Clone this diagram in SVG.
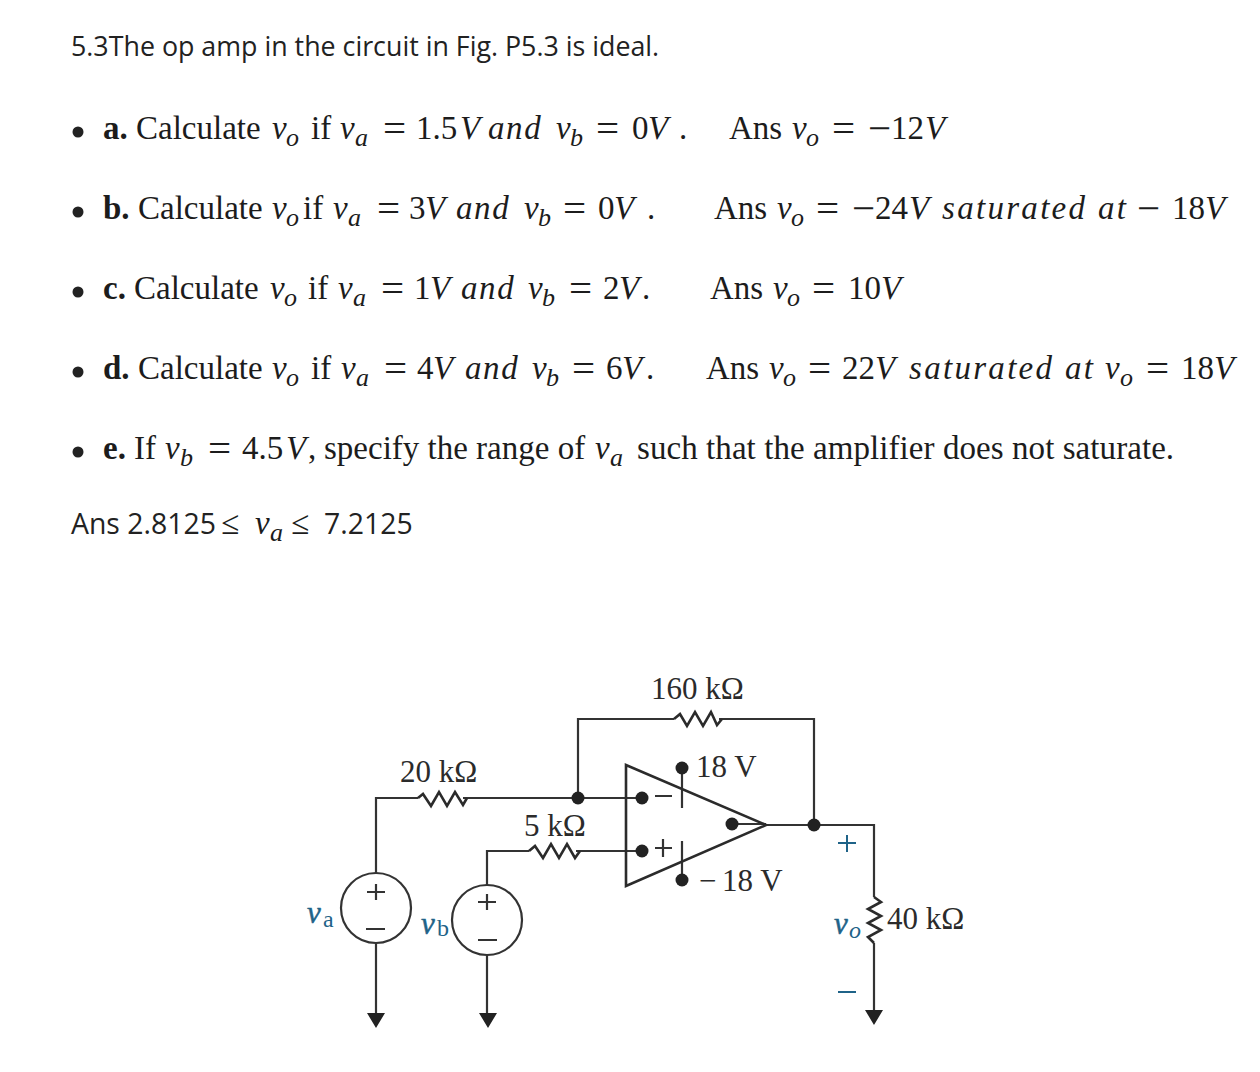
<svg xmlns="http://www.w3.org/2000/svg" width="1260" height="1072" viewBox="0 0 1260 1072">
<style>
text{font-family:"Liberation Serif","Times New Roman",serif;fill:#1c1c1c}
.q{font-size:33px}
.i{font-style:italic}
.b{font-weight:bold}
.s{font-size:26px;font-style:italic}
.m{letter-spacing:1.6px;font-style:italic}
.n{letter-spacing:2.3px;font-style:italic}
.e{font-size:41px}
.h{font-family:"Open Sans","Noto Sans",sans-serif;font-size:26.8px;fill:#222}
.a{font-family:"Open Sans","Noto Sans",sans-serif;font-size:28.4px;fill:#222}
.c{font-size:31px;fill:#2b2b2b}
.v{font-size:31px;font-style:italic;fill:#1f6388;stroke:#1f6388;stroke-width:.5}
.vs{font-size:24px;fill:#1f6388}
.w{fill:none;stroke:#333;stroke-width:2.2}
.t{fill:none;stroke:#2b2b2b;stroke-width:2.6}
.d{fill:#222}
.src{fill:#fff;stroke:#333;stroke-width:2.2}
</style>
<g id="question-text">
<text class="h" x="71" y="56">5.3The op amp in the circuit in Fig. P5.3 is ideal.</text>
<g class="d"><circle cx="78" cy="132" r="5.5"/><circle cx="78" cy="212" r="5.5"/><circle cx="78" cy="292" r="5.5"/><circle cx="78" cy="372" r="5.5"/><circle cx="78" cy="452" r="5.5"/></g>

<text class="q" y="139"><tspan class="b" x="103">a.</tspan><tspan x="136">Calculate</tspan><tspan class="i" x="272">v</tspan><tspan class="s" x="286" dy="7">o</tspan><tspan x="311" dy="-7">if</tspan><tspan class="i" x="340">v</tspan><tspan class="s" x="355" dy="7">a</tspan><tspan x="416" dy="-7">1.5</tspan><tspan class="i" x="460">V</tspan><tspan class="m" x="488">and</tspan><tspan class="i" x="556">v</tspan><tspan class="s" x="570" dy="7">b</tspan><tspan x="632" dy="-7">0</tspan><tspan class="i" x="648">V</tspan><tspan x="679">.</tspan><tspan x="729">Ans</tspan><tspan class="i" x="792">v</tspan><tspan class="s" x="806" dy="7">o</tspan><tspan class="e" x="868" dy="-4">−</tspan><tspan x="891" dy="-3">12</tspan><tspan class="i" x="925">V</tspan></text>
<g class="e"><text x="383" y="142">=</text><text x="596" y="142">=</text><text x="832" y="142">=</text></g>

<text class="q" y="219"><tspan class="b" x="103">b.</tspan><tspan x="138">Calculate</tspan><tspan class="i" x="272">v</tspan><tspan class="s" x="286" dy="7">o</tspan><tspan x="303" dy="-7">if</tspan><tspan class="i" x="333">v</tspan><tspan class="s" x="348" dy="7">a</tspan><tspan x="409" dy="-7">3</tspan><tspan class="i" x="425">V</tspan><tspan class="m" x="456">and</tspan><tspan class="i" x="524">v</tspan><tspan class="s" x="538" dy="7">b</tspan><tspan x="598" dy="-7">0</tspan><tspan class="i" x="614">V</tspan><tspan x="647">.</tspan><tspan x="714">Ans</tspan><tspan class="i" x="777">v</tspan><tspan class="s" x="791" dy="7">o</tspan><tspan class="e" x="852" dy="-4">−</tspan><tspan x="875" dy="-3">24</tspan><tspan class="i" x="909">V</tspan><tspan class="n" x="942">saturated at</tspan><tspan class="e" x="1137" dy="3">−</tspan><tspan x="1172" dy="-3">18</tspan><tspan class="i" x="1205">V</tspan></text>
<g class="e"><text x="377" y="222">=</text><text x="563" y="222">=</text><text x="816" y="222">=</text></g>

<text class="q" y="299"><tspan class="b" x="103">c.</tspan><tspan x="134">Calculate</tspan><tspan class="i" x="270">v</tspan><tspan class="s" x="284" dy="7">o</tspan><tspan x="308" dy="-7">if</tspan><tspan class="i" x="338">v</tspan><tspan class="s" x="353" dy="7">a</tspan><tspan x="414" dy="-7">1</tspan><tspan class="i" x="430">V</tspan><tspan class="m" x="461">and</tspan><tspan class="i" x="528">v</tspan><tspan class="s" x="542" dy="7">b</tspan><tspan x="603" dy="-7">2</tspan><tspan class="i" x="619">V</tspan><tspan x="642">.</tspan><tspan x="710">Ans</tspan><tspan class="i" x="773">v</tspan><tspan class="s" x="787" dy="7">o</tspan><tspan x="848" dy="-7">10</tspan><tspan class="i" x="881">V</tspan></text>
<g class="e"><text x="381" y="302">=</text><text x="569" y="302">=</text><text x="812" y="302">=</text></g>

<text class="q" y="379"><tspan class="b" x="103">d.</tspan><tspan x="138">Calculate</tspan><tspan class="i" x="272">v</tspan><tspan class="s" x="286" dy="7">o</tspan><tspan x="311" dy="-7">if</tspan><tspan class="i" x="341">v</tspan><tspan class="s" x="356" dy="7">a</tspan><tspan x="417" dy="-7">4</tspan><tspan class="i" x="433">V</tspan><tspan class="m" x="465">and</tspan><tspan class="i" x="532">v</tspan><tspan class="s" x="546" dy="7">b</tspan><tspan x="606" dy="-7">6</tspan><tspan class="i" x="622">V</tspan><tspan x="646">.</tspan><tspan x="706">Ans</tspan><tspan class="i" x="769">v</tspan><tspan class="s" x="783" dy="7">o</tspan><tspan x="842" dy="-7">22</tspan><tspan class="i" x="875">V</tspan><tspan class="n" x="909">saturated at</tspan><tspan class="i" x="1105">v</tspan><tspan class="s" x="1120" dy="7">o</tspan><tspan x="1181" dy="-7">18</tspan><tspan class="i" x="1214">V</tspan></text>
<g class="e"><text x="384" y="382">=</text><text x="572" y="382">=</text><text x="808" y="382">=</text><text x="1146" y="382">=</text></g>

<text class="q" y="459"><tspan class="b" x="103">e.</tspan><tspan x="134">If</tspan><tspan class="i" x="165">v</tspan><tspan class="s" x="180" dy="7">b</tspan><tspan x="242" dy="-7">4.5</tspan><tspan class="i" x="286">V</tspan><tspan x="308">,</tspan><tspan x="324">specify the range of</tspan><tspan class="i" x="595">v</tspan><tspan class="s" x="610" dy="7">a</tspan><tspan x="637" dy="-7" letter-spacing=".07">such that the amplifier does not saturate.</tspan></text>
<text class="e" x="208" y="462">=</text>

<text class="a" x="71" y="534">Ans 2.8125</text>
<text class="q" y="534"><tspan x="221">≤</tspan><tspan class="i" x="255">v</tspan><tspan class="s" x="270" dy="7">a</tspan><tspan x="291" dy="-7">≤</tspan></text>
<text class="a" x="324" y="534">7.2125</text>
</g>
<g id="connectors">
<path class="w" d="M376 873V798H418M463 798H626M578 798V719H674M719 719H814V825M626 798H642"/>
<path class="w" d="M487 885V851H529M576 851H642"/>
<path class="w" d="M766 825H874V897M874 943V1010"/>
<path class="w" d="M732 824H766M682 768V808M682 841V880"/>
<path class="w" d="M376 943V1014M487 955V1014"/>
</g>
<g id="res-20k"><path class="t" d="M418 798L423 794 431 806 439 792 447 806 455 792 463 805 467 798"/><text class="c" x="400" y="782">20 kΩ</text></g>
<g id="res-5k"><path class="t" d="M529 851L535 846 543 858 551 844 559 858 567 844 575 858 580 851"/><text class="c" x="524" y="836">5 kΩ</text></g>
<g id="res-160k"><path class="t" d="M674 719L680 714 687 726 695 712 703 726 711 712 717 725 722 719"/><text class="c" x="651" y="699">160 kΩ</text></g>
<g id="res-40k"><path class="t" d="M874 897L881 902 868 909 881 916 868 923 881 930 868 937 874 943"/><text class="c" x="887" y="929">40 kΩ</text></g>
<g id="source-a"><circle class="src" cx="376" cy="908" r="35"/><path class="w" d="M376 884V900M367 892H385M366 929H385"/><text class="v" x="307" y="923">v</text><text class="vs" x="323" y="927">a</text></g>
<g id="source-b"><circle class="src" cx="487" cy="920" r="35"/><path class="w" d="M487 894V910M478 902H496M478 940H497"/><text class="v" x="421" y="934">v</text><text class="vs" x="437" y="936">b</text></g>
<g id="opamp">
<path class="t" d="M626 765V886L766 825Z"/>
<circle class="d" cx="642" cy="798" r="6.5"/><circle class="d" cx="642" cy="851" r="6.5"/><circle class="d" cx="732" cy="824" r="6.5"/><circle class="d" cx="682" cy="768" r="6.5"/><circle class="d" cx="682" cy="880" r="6.5"/>
<path class="w" d="M655 796H672M655 848H672M663 839V857"/>
<text class="c" x="696" y="777">18 V</text><text class="c" y="891"><tspan x="699">−</tspan><tspan x="722">18 V</tspan></text>
</g>
<g id="junctions"><circle class="d" cx="578" cy="798" r="6.5"/><circle class="d" cx="814" cy="825" r="6.5"/></g>
<g id="grounds"><path class="d" d="M367 1013H385L376 1028ZM479 1013H497L488 1028ZM865 1010H883L874 1025Z"/></g>
<g id="output-labels"><path d="M838 843H856M847 835V852M838 992H856" fill="none" stroke="#1f6388" stroke-width="2"/><text class="v" x="834" y="934">v</text><text class="vs i" x="849" y="938">o</text></g>
</svg>
